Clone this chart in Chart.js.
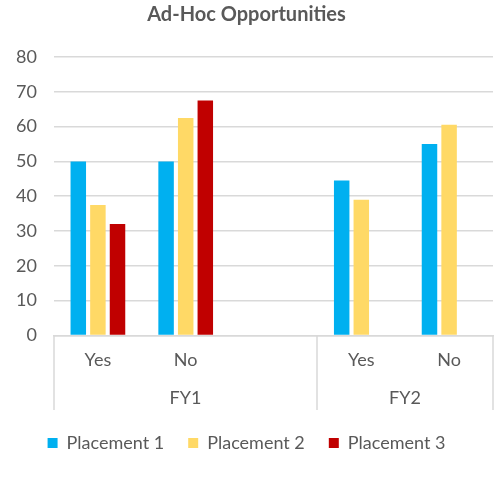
<!DOCTYPE html>
<html>
<head>
<meta charset="utf-8">
<script src="https://cdn.jsdelivr.net/npm/chart.js@4/dist/chart.umd.min.js"></script>
<style>
  html, body { margin: 0; padding: 0; background: #fff; }
</style>
</head>
<body>
<canvas id="chart" width="500" height="500"></canvas>
<script>
const categories = ["Yes", "No", "", "Yes", "No"];
const groupNames = ["FY1", "FY2"];
const groupSizes = [3, 2];

const placement1 = [50, 50, null, 44.5, 55];
const placement2 = [37.5, 62.5, null, 39, 60.5];
const placement3 = [32, 67.5, null, null, null];

const yTicks = { min: 0, max: 80, step: 10 };

const fontFamily = "Lato, 'Open Sans', sans-serif";
const textColor = "#595959";
const lineColor = "#d9d9d9";

// draws the second row of the category axis (FY1 / FY2) and its separators
const groupAxis = {
  id: "groupAxis",
  afterDraw(chart) {
    const x = chart.scales.x;
    const ctx = chart.ctx;
    const half = (x.getPixelForValue(1) - x.getPixelForValue(0)) / 2;
    ctx.save();
    ctx.strokeStyle = lineColor;
    ctx.lineWidth = 1.5;
    ctx.fillStyle = textColor;
    ctx.font = "18px " + fontFamily;
    ctx.textAlign = "center";
    ctx.textBaseline = "middle";

    let start = 0;
    const edge = (i) => Math.round(x.getPixelForValue(i) - half);
    ctx.beginPath();
    ctx.moveTo(edge(0), x.top);
    ctx.lineTo(edge(0), x.bottom);
    groupSizes.forEach((size, g) => {
      const end = start + size;
      const right = edge(end);
      ctx.moveTo(right, x.top);
      ctx.lineTo(right, x.bottom);
      ctx.fillText(groupNames[g], (edge(start) + right) / 2, x.bottom - 12);
      start = end;
    });
    ctx.stroke();
    ctx.restore();
  },
};

new Chart(document.getElementById("chart"), {
  type: "bar",
  data: {
    labels: categories,
    datasets: [
      { label: "Placement 1", data: placement1, backgroundColor: "#00b0f0" },
      { label: "Placement 2", data: placement2, backgroundColor: "#ffd966" },
      { label: "Placement 3", data: placement3, backgroundColor: "#c00000" },
    ],
  },
  options: {
    responsive: false,
    animation: false,
    devicePixelRatio: 1,
    categoryPercentage: 0.67,
    barPercentage: 0.79,
    layout: { padding: { left: 0, right: 7, top: 0, bottom: 38 } },
    plugins: {
      title: {
        display: true,
        text: "Ad-Hoc Opportunities",
        color: textColor,
        font: { family: fontFamily, size: 20, weight: "bold" },
        padding: { top: 3, bottom: 30 },
      },
      legend: {
        position: "bottom",
        labels: {
          color: textColor,
          font: { family: fontFamily, size: 18 },
          boxWidth: 10,
          boxHeight: 10,
          padding: 24,
        },
      },
      tooltip: { enabled: false },
    },
    scales: {
      x: {
        grid: { display: false, drawTicks: false },
        border: { color: lineColor, width: 1.5 },
        ticks: {
          color: textColor,
          font: { family: fontFamily, size: 18 },
          padding: 14,
          autoSkip: false,
          maxRotation: 0,
        },
        afterFit(scale) {
          scale.height += 25;
        },
      },
      y: {
        min: yTicks.min,
        max: yTicks.max,
        grid: { color: lineColor, lineWidth: 1.5, drawTicks: false },
        border: { display: false },
        ticks: {
          stepSize: yTicks.step,
          color: textColor,
          font: { family: fontFamily, size: 18 },
          padding: 17,
        },
        afterFit(scale) {
          scale.width = 54;
        },
      },
    },
  },
  plugins: [groupAxis],
});
</script>
</body>
</html>
